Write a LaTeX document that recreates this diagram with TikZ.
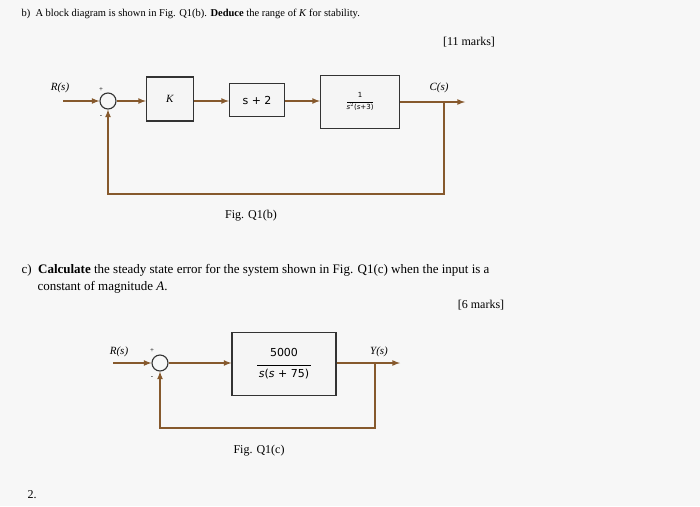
\documentclass[tikz,border=0pt]{standalone}
\usepackage{fontspec}
\setmainfont{Liberation Serif}
\newfontfamily\dsans{DejaVu Sans}
\begin{document}
\begin{tikzpicture}[x=1pt,y=-1pt,
  sig/.style={draw=brown!70!black,line width=1.6pt},
  arr/.style={sig,-{latex}},
  blk/.style={draw=black!80,line width=1.2pt,fill=gray!8,inner sep=0pt},
  sumc/.style={circle,draw=black!80,line width=1.1pt,minimum size=16pt,inner sep=0pt},
  lbl/.style={font=\itshape\fontsize{11}{13}\selectfont},
  txt/.style={font=\fontsize{12}{14}\selectfont},
  txtb/.style={font=\fontsize{10.5}{13}\selectfont},
  txtc/.style={font=\fontsize{13}{15}\selectfont}]
\useasboundingbox[fill=gray!6] (0,0) rectangle (700,506);
% header
\node[anchor=west,txtb] (t1) at (18,14) {b)\ \ A block diagram is shown in Fig. Q1(b). \textbf{Deduce} the range of \textit{K} for stability.};
\node[txt] (m1) at (469,42) {[11 marks]};
% top diagram
\coordinate (in1) at (63,101);
\node[sumc] (s1) at (108,101) {};
\node[blk,minimum width=47pt,minimum height=44pt] (k) at (170,99) {\fontsize{11}{13}\selectfont\textit{K}};
\node[blk,minimum width=55pt,minimum height=33pt] (g2) at (257,100) {\dsans\fontsize{11}{13}\selectfont s + 2};
\node[blk,minimum width=79pt,minimum height=53pt] (g3) at (360,102) {\dsans\fontsize{7}{8}\selectfont\begin{tabular}{@{}c@{}}1\\[-3pt]\rule{26pt}{0.5pt}\\[-2pt]\textit{s}$^2$(\textit{s}+3)\end{tabular}};
\coordinate (o1) at (465,102);
\coordinate (b1) at (444,102);
\coordinate (f1) at (444,194);
\coordinate (f2) at (108,194);
\draw[arr] (in1) -- (s1);
\draw[arr] (s1) -- (k.west|-s1);
\draw[arr] (k.east|-s1) -- (g2.west|-s1);
\draw[arr] (g2.east|-s1) -- (g3.west|-s1);
\draw[arr] (g3.east|-o1) -- (o1);
\draw[arr] (b1) -- (f1) -- (f2) -- (s1.south);
\node[lbl] (r1) at (60,88) {R(s)};
\node[lbl] (c1) at (439,88) {C(s)};
\node[font=\scriptsize] (p1) at (101,90) {+};
\node[font=\scriptsize] (n1) at (101,117) {-};
\node[txt] (fb) at (251,216) {Fig. Q1(b)};
% part c
\node[anchor=west,txtc] (t2) at (18,270) {c)\ \ \textbf{Calculate} the steady state error for the system shown in Fig. Q1(c) when the input is a};
\node[anchor=west,txtc] (t3) at (34,287) {constant of magnitude \textit{A}.};
\node[txt] (m2) at (481,305) {[6 marks]};
% bottom diagram
\coordinate (in2) at (113,363);
\node[sumc] (s2) at (160,363) {};
\node[blk,minimum width=104pt,minimum height=63pt] (g4) at (284,364) {\dsans\fontsize{11}{13}\selectfont\begin{tabular}{@{}c@{}}5000\\[-4pt]\rule{54pt}{0.6pt}\\[-1pt]\textit{s}(\textit{s} + 75)\end{tabular}};
\coordinate (o2) at (400,363);
\coordinate (b2) at (375,363);
\coordinate (f3) at (375,428);
\coordinate (f4) at (160,428);
\draw[arr] (in2) -- (s2);
\draw[arr] (s2) -- (g4.west|-s2);
\draw[arr] (g4.east|-o2) -- (o2);
\draw[arr] (b2) -- (f3) -- (f4) -- (s2.south);
\node[lbl] (r2) at (119,352) {R(s)};
\node[lbl] (y2) at (379,352) {Y(s)};
\node[font=\scriptsize] (p2) at (152,351) {+};
\node[font=\scriptsize] (n2) at (152,378) {-};
\node[txt] (fc) at (259,451) {Fig. Q1(c)};
\node[txt] (pg) at (32,495) {2.};
\end{tikzpicture}
\end{document}
